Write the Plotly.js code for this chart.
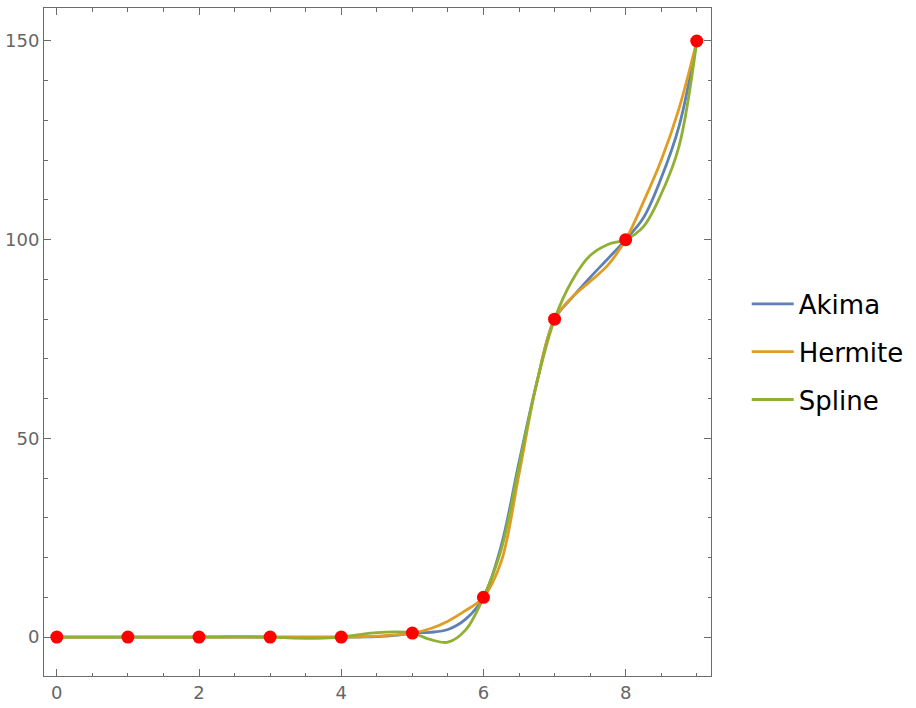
<!DOCTYPE html>
<html>
<head>
<meta charset="utf-8">
<script src="https://cdn.plot.ly/plotly-3.0.1.min.js"></script>
<style>html,body{margin:0;padding:0;background:#fff;}#chart{width:916px;height:708px;}</style>
</head>
<body>
<div id="chart"></div>
<script>
// Data points
const pointX = [0, 1, 2, 3, 4, 5, 6, 7, 8, 9];
const pointY = [0, 0, 0, 0, 0, 1, 10, 80, 100, 150];

// Curve sample positions
const curveX = [0, 0.25, 0.5, 0.75, 1, 1.25, 1.5, 1.75, 2, 2.25, 2.5, 2.75, 3, 3.25, 3.5, 3.75, 4,
                4.25, 4.5, 4.75, 5, 5.25, 5.5, 5.75, 6, 6.25, 6.5, 6.75, 7, 7.25, 7.5, 7.75, 8, 8.25, 8.5, 8.75, 9];

const akimaY = [0, 0, 0, 0, 0, 0, 0, 0, 0, 0, 0, 0, 0, 0, 0, 0, 0,
                0.02, 0.1, 0.4, 1, 1.2, 1.9, 4.5, 10, 23, 44, 64, 80, 85.5, 90.5, 95.2, 100, 105.5, 115.5, 128.5, 150];

const hermiteY = [0, 0, 0, 0, 0, 0, 0, 0, 0, 0, 0, 0, 0, 0, 0, 0, 0,
                  0.05, 0.25, 0.55, 1, 2.1, 4.0, 6.7, 10, 19, 41, 64, 80, 85.6, 89.5, 93.6, 100, 109.5, 120, 133, 150];

const splineY = [0, 0, 0, 0, 0, 0, 0, 0, 0, 0.05, 0.1, 0.08, 0, -0.2, -0.3, -0.25, 0,
                 0.6, 1.1, 1.3, 1, -0.6, -1.3, 1.8, 10, 22, 43, 64, 80, 89.8, 96, 98.8, 100, 103.3, 111.5, 123.5, 150];

const seriesNames = ["Akima", "Hermite", "Spline"];
const seriesColors = ["#5E81B5", "#E19C24", "#8FB032"];
const seriesY = [akimaY, hermiteY, splineY];

const traces = seriesNames.map((n, i) => ({
  type: "scatter",
  mode: "lines",
  name: n,
  x: curveX,
  y: seriesY[i],
  line: {color: seriesColors[i], width: 2.8, shape: "spline", smoothing: 1},
  legendgroup: n
}));

traces.push({
  type: "scatter",
  mode: "markers",
  x: pointX,
  y: pointY,
  marker: {color: "#FF0000", size: 13},
  showlegend: false,
  hoverinfo: "x+y"
});

const axisColor = "#6b6b6b";
const tickFont = {family: "DejaVu Sans", size: 18, color: "#666666"};

const layout = {
  width: 916,
  height: 708,
  margin: {l: 44, r: 204, t: 8, b: 32},
  paper_bgcolor: "#ffffff",
  plot_bgcolor: "#ffffff",
  showlegend: true,
  legend: {
    x: 1.052, xanchor: "left",
    y: 0.485, yanchor: "middle",
    font: {family: "DejaVu Sans", size: 26, color: "#000000"},
    tracegroupgap: 11,
    itemwidth: 42,
    bgcolor: "rgba(0,0,0,0)"
  },
  xaxis: {
    range: [-0.18, 9.2],
    tickvals: [0, 2, 4, 6, 8],
    ticks: "inside",
    ticklen: 7,
    tickwidth: 1,
    tickcolor: axisColor,
    minor: {dtick: 0.5, tick0: 0, ticks: "inside", ticklen: 3.5, tickcolor: axisColor, showgrid: false},
    showline: true,
    linecolor: axisColor,
    linewidth: 1,
    mirror: "allticks",
    showgrid: false,
    zeroline: false,
    tickfont: tickFont
  },
  yaxis: {
    range: [-9.8, 158.3],
    tickvals: [0, 50, 100, 150],
    ticks: "inside",
    ticklen: 7,
    tickwidth: 1,
    tickcolor: axisColor,
    minor: {dtick: 10, tick0: 0, ticks: "inside", ticklen: 3.5, tickcolor: axisColor, showgrid: false},
    showline: true,
    linecolor: axisColor,
    linewidth: 1,
    mirror: "allticks",
    showgrid: false,
    zeroline: false,
    tickfont: tickFont
  }
};

Plotly.newPlot("chart", traces, layout, {displayModeBar: false, staticPlot: true});
</script>
</body>
</html>
